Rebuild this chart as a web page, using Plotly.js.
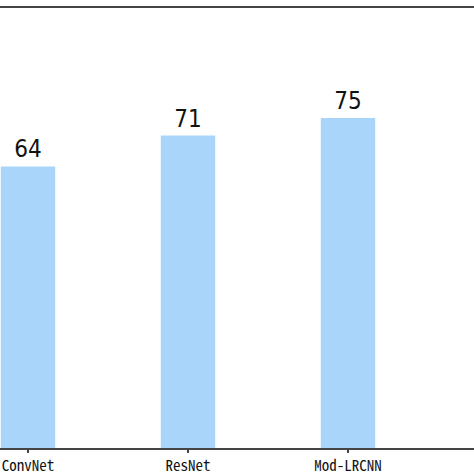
<!DOCTYPE html>
<html>
<head>
<meta charset="utf-8">
<script src="https://cdn.plot.ly/plotly-3.0.1.min.js"></script>
<style>html,body{margin:0;padding:0;background:#fff}#chart{width:474px;height:474px}</style>
</head>
<body>
<div id="chart"></div>
<script>
const categories = ["ConvNet", "ResNet", "Mod-LRCNN"];
const values = [64, 71, 75];
const valueLabels = ["64", "71", "75"];

const trace = {
  type: "bar",
  x: categories,
  y: values,
  text: valueLabels,
  textposition: "outside",
  cliponaxis: false,
  textfont: {family: "DejaVu Sans Condensed, Liberation Sans Narrow, Liberation Sans, Arial, sans-serif", size: 24, color: "#111"},
  marker: {color: "#aad5fb"},
  width: 0.34,
  hoverinfo: "skip"
};

const layout = {
  width: 474, height: 474,
  margin: {l: 0, r: 0, t: 8, b: 26, pad: 0},
  paper_bgcolor: "#fff", plot_bgcolor: "#fff",
  showlegend: false,
  xaxis: {
    type: "category",
    range: [-0.175, 2.7875],
    showline: true, mirror: true, linecolor: "#444", linewidth: 1.6,
    ticks: "outside", ticklen: 3, tickwidth: 1.2, tickcolor: "#444",
    showgrid: false, zeroline: false,
    tickfont: {family: "Noto Sans Mono CJK SC, DejaVu Sans Mono, monospace", size: 15, color: "#111"}
  },
  yaxis: {
    range: [0, 100],
    showline: false, showgrid: false, zeroline: false,
    showticklabels: false, ticks: ""
  }
};

Plotly.newPlot("chart", [trace], layout, {displayModeBar: false, staticPlot: true});
</script>
</body>
</html>
